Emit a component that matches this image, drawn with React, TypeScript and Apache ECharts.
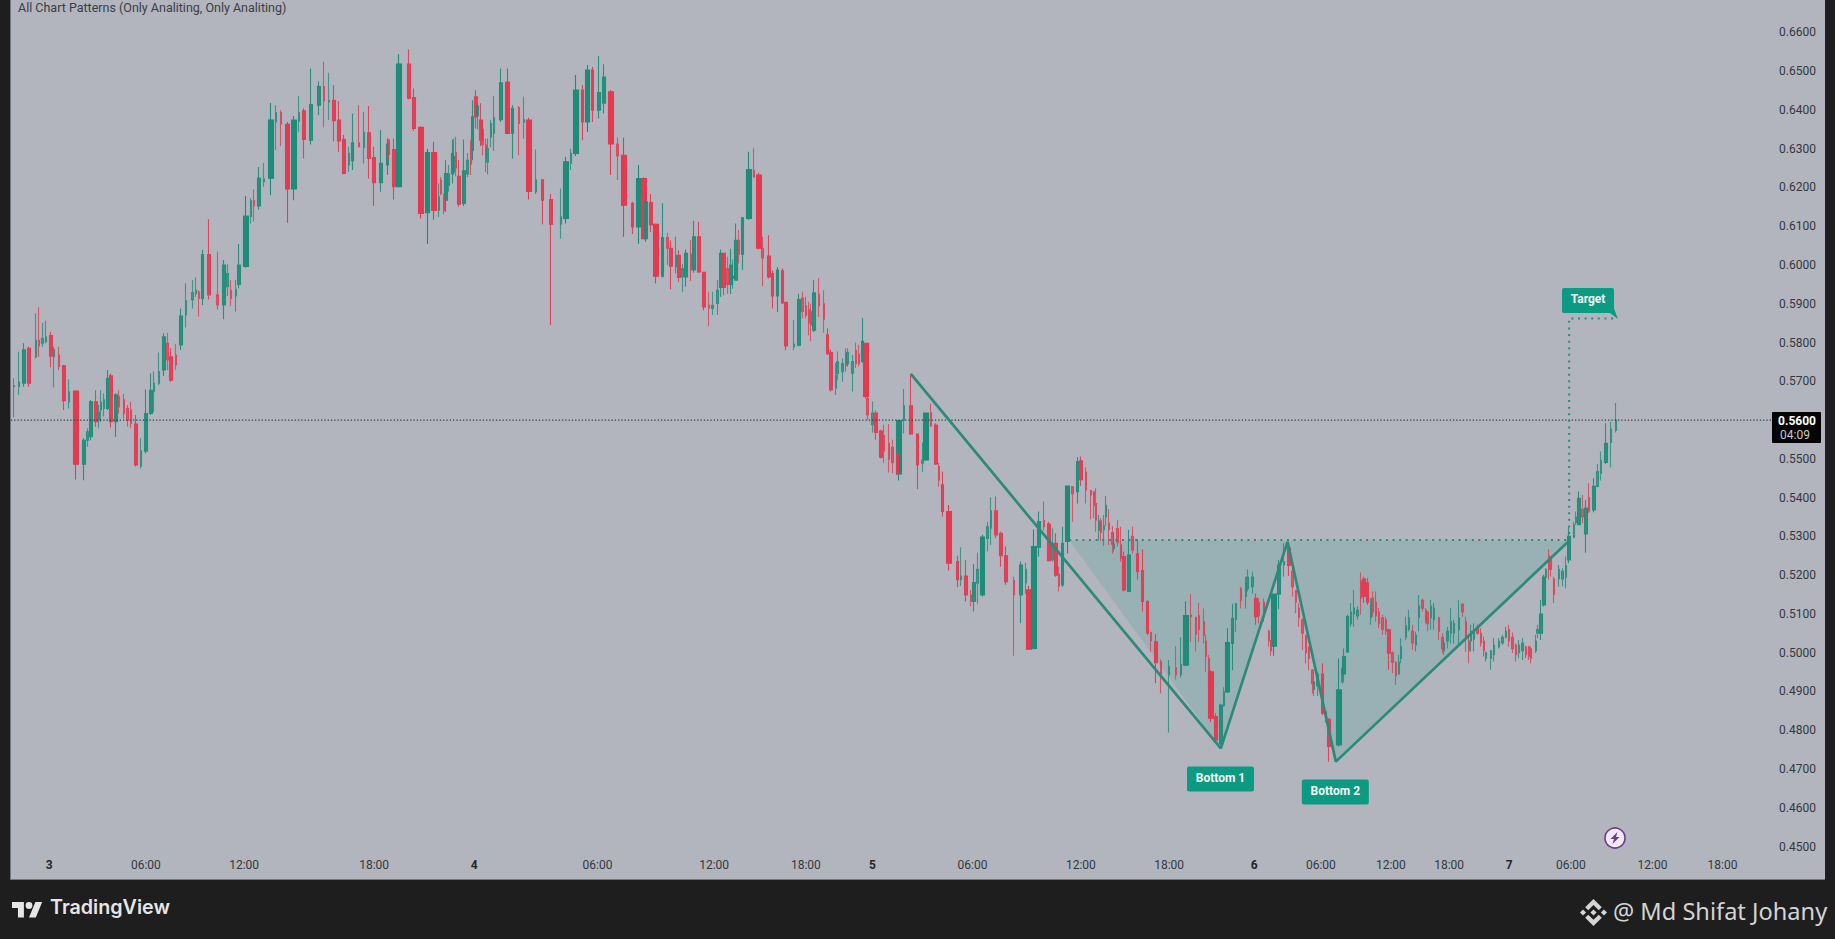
import React, { useEffect, useRef } from "react";
import * as echarts from "echarts";

// Each bar: [axis slot, open, close, low, high]
const barsSectionA = [
[2,.5686,.5689,.5607,.5708],[5,.5686,.5698,.5665,.5776],[8,.5695,.5781,.5686,.5798],[11,.5785,.5695,.5686,.5790],
[15,.5763,.5806,.5759,.5875],[17,.5806,.5791,.5763,.5891],[19,.5798,.5811,.5789,.5851],[21,.5802,.5815,.5798,.5856],
[24,.5818,.5765,.5736,.5828],[26,.5763,.5782,.5684,.5789],[29,.5768,.5738,.5729,.5789],[32,.5740,.5650,.5626,.5742],
[35,.5647,.5673,.5630,.5705],[39,.5675,.5486,.5447,.5677],[44,.5486,.5548,.5445,.5553],[46,.5548,.5570,.5531,.5579],
[48,.5557,.5647,.5548,.5652],[51,.5647,.5596,.5583,.5677],[53,.5600,.5621,.5579,.5639],[54,.5626,.5646,.5596,.5677],
[56,.5630,.5652,.5609,.5669],[58,.5630,.5708,.5626,.5729],[60,.5714,.5596,.5581,.5720],[63,.5596,.5665,.5557,.5669],
[65,.5660,.5634,.5617,.5677],[68,.5652,.5617,.5604,.5667],[70,.5630,.5600,.5583,.5639],[72,.5626,.5591,.5579,.5647],
[75,.5590,.5484,.5480,.5613],[78,.5481,.5521,.5475,.5553],[81,.5520,.5617,.5514,.5679],[84,.5617,.5677,.5613,.5720],
[86,.5673,.5695,.5621,.5725],[89,.5695,.5725,.5690,.5774],[92,.5729,.5815,.5714,.5824],[94,.5798,.5755,.5729,.5825],
[96,.5763,.5703,.5699,.5785],[99,.5768,.5742,.5729,.5796],[102,.5794,.5868,.5781,.5888],[105,.5871,.5908,.5839,.5953],
[109,.5910,.5929,.5888,.5961],[111,.5925,.5935,.5918,.5968],[113,.5931,.5914,.5867,.5935],[115,.5914,.6027,.5897,.6039],
[119,.6027,.5923,.5911,.6118],[124,.5923,.5897,.5885,.6034],[128,.5897,.6000,.5860,.6013],[130,.5944,.5978,.5920,.6002],
[132,.5935,.5914,.5894,.5961],[135,.5920,.5937,.5880,.5961],[137,.5950,.6000,.5940,.6054],[141,.5996,.6126,.5993,.6178],
[144,.6125,.6166,.6107,.6172],[146,.6166,.6152,.6112,.6195],[149,.6152,.6224,.6143,.6253],[152,.6215,.6222,.6202,.6263],
[156,.6224,.6374,.6180,.6418],
];
const barsSectionB = [
[159,.6369,.6393,.6296,.6412],[162,.6393,.6363,.6307,.6399],[166,.6363,.6196,.6109,.6369],[170,.6196,.6374,.6167,.6384],
[173,.6371,.6393,.6344,.6436],[176,.6398,.6324,.6275,.6404],[180,.6322,.6414,.6311,.6507],[185,.6412,.6460,.6387,.6473],
[188,.6460,.6423,.6355,.6524],[191,.6420,.6425,.6374,.6496],[194,.6425,.6372,.6319,.6464],[197,.6374,.6320,.6292,.6423],
[200,.6324,.6236,.6234,.6335],[203,.6258,.6288,.6240,.6305],[205,.6269,.6315,.6245,.6391],[209,.6315,.6305,.6303,.6412],
[212,.6303,.6342,.6262,.6395],[215,.6341,.6275,.6223,.6410],[218,.6277,.6212,.6152,.6305],[222,.6212,.6262,.6189,.6348],
[226,.6258,.6312,.6232,.6326],[227,.6322,.6285,.6270,.6326],[230,.6298,.6202,.6169,.6326],[233,.6202,.6518,.6200,.6544],
[239,.6518,.6430,.6427,.6556],[242,.6432,.6352,.6346,.6455],[246,.6355,.6133,.6120,.6358],[250,.6135,.6290,.6054,.6300],
[254,.6290,.6141,.6117,.6318],[257,.6141,.6176,.6124,.6210],[258,.6219,.6184,.6180,.6227],[260,.6176,.6141,.6131,.6184],
[261,.6167,.6236,.6137,.6270],[263,.6205,.6235,.6189,.6258],[265,.6236,.6288,.6210,.6324],[266,.6240,.6280,.6232,.6326],
[267,.6290,.6250,.6229,.6331],[269,.6229,.6157,.6150,.6270],[272,.6159,.6243,.6152,.6324],[274,.6235,.6270,.6227,.6289],
[276,.6300,.6260,.6232,.6322],[277,.6296,.6382,.6270,.6425],[279,.6434,.6382,.6352,.6451],[280,.6385,.6410,.6350,.6417],
[282,.6374,.6322,.6307,.6417],[283,.6350,.6310,.6283,.6374],[285,.6310,.6275,.6240,.6326],[286,.6265,.6300,.6234,.6326],
[288,.6330,.6365,.6303,.6374],[290,.6339,.6380,.6294,.6436],[294,.6375,.6470,.6369,.6507],[298,.6472,.6339,.6337,.6507],
[301,.6339,.6404,.6275,.6412],[305,.6406,.6365,.6283,.6410],[308,.6368,.6375,.6326,.6434],[311,.6374,.6190,.6169,.6380],
[315,.6189,.6220,.6183,.6298],[319,.6220,.6167,.6105,.6222],
];
const barsSectionC = [
[324,.6169,.6105,.5845,.6183],[330,.6105,.6124,.6068,.6197],[333,.6120,.6266,.6107,.6279],[336,.6262,.6288,.6245,.6300],
[339,.6288,.6451,.6281,.6490],[343,.6451,.6369,.6322,.6464],[346,.6369,.6503,.6343,.6516],[349,.6503,.6399,.6369,.6511],
[353,.6399,.6445,.6378,.6539],[356,.6417,.6485,.6391,.6518],[360,.6447,.6312,.6232,.6451],[364,.6312,.6281,.6219,.6329],
[368,.6283,.6154,.6073,.6329],[373,.6159,.6098,.6080,.6163],[377,.6098,.6223,.6055,.6258],[380,.6223,.6068,.6066,.6226],
[381,.6068,.6163,.6060,.6186],[384,.6161,.6103,.6085,.6183],[387,.6105,.5971,.5952,.6107],[391,.5971,.6071,.5968,.6159],
[394,.6071,.6043,.6000,.6083],[396,.6043,.5997,.5937,.6064],[399,.5995,.6025,.5978,.6073],[401,.6025,.5968,.5957,.6038],
[403,.5970,.5990,.5931,.6002],[405,.5969,.6030,.5944,.6040],[408,.6028,.5987,.5959,.6064],[410,.5987,.6073,.5980,.6114],
[413,.6073,.5982,.5980,.6111],[416,.5981,.5892,.5883,.5982],[419,.5896,.5889,.5842,.5931],[421,.5888,.5896,.5871,.5931],
[424,.5901,.5935,.5871,.5961],[426,.5942,.6030,.5918,.6040],[428,.6030,.5942,.5922,.6030],[430,.5990,.5950,.5926,.6021],
[432,.5950,.6000,.5925,.6042],[433,.5965,.5971,.5939,.6014],[435,.5961,.6064,.5961,.6107],[437,.6064,.6028,.6004,.6090],
[439,.6028,.6122,.5987,.6124],[443,.6120,.6246,.6117,.6292],[446,.6244,.6227,.6225,.6301],[449,.6232,.6043,.6040,.6238],
[451,.6043,.6019,.5945,.6073],[455,.6023,.5969,.5965,.6077],[457,.5978,.5920,.5888,.5985],[460,.5920,.5987,.5879,.5995],
[463,.5985,.5902,.5900,.5991],[465,.5904,.5791,.5780,.5905],[470,.5789,.5796,.5780,.5858],[473,.5793,.5911,.5790,.5926],
[475,.5915,.5880,.5862,.5931],[477,.5895,.5870,.5862,.5918],[479,.5885,.5850,.5819,.5905],
];
const barsSectionD = [
[480,.5880,.5845,.5803,.5900],[482,.5832,.5928,.5827,.5961],[485,.5925,.5895,.5866,.5966],[488,.5900,.5860,.5825,.5935],
[490,.5820,.5771,.5768,.5837],[492,.5774,.5678,.5674,.5781],[495,.5682,.5716,.5665,.5747],[496,.5720,.5750,.5704,.5777],
[499,.5725,.5745,.5699,.5759],[501,.5770,.5740,.5725,.5785],[502,.5745,.5775,.5738,.5785],[505,.5721,.5751,.5674,.5768],
[507,.5780,.5745,.5734,.5800],[509,.5770,.5745,.5738,.5794],[511,.5751,.5803,.5748,.5863],[513,.5798,.5661,.5656,.5800],
[514,.5656,.5613,.5600,.5674],[517,.5588,.5618,.5568,.5648],[519,.5618,.5568,.5549,.5625],[522,.5572,.5504,.5501,.5575],
[524,.5560,.5520,.5490,.5588],[527,.5540,.5499,.5465,.5590],[529,.5530,.5490,.5463,.5549],[532,.5513,.5461,.5459,.5532],
[533,.5461,.5599,.5444,.5600],[536,.5599,.5637,.5566,.5680],[540,.5637,.5564,.5562,.5719],[544,.5564,.5484,.5422,.5564],
[547,.5489,.5497,.5467,.5542],[549,.5497,.5618,.5495,.5619],[552,.5619,.5585,.5583,.5643],[555,.5587,.5487,.5484,.5592],
[557,.5480,.5445,.5428,.5489],[559,.5433,.5364,.5351,.5467],[563,.5364,.5231,.5212,.5381],[568,.5235,.5188,.5169,.5250],
[570,.5188,.5198,.5172,.5272],[573,.5198,.5149,.5132,.5239],[576,.5149,.5132,.5119,.5162],[578,.5132,.5181,.5106,.5229],
[580,.5179,.5215,.5126,.5258],[583,.5149,.5298,.5145,.5304],[586,.5295,.5325,.5261,.5338],[588,.5321,.5366,.5278,.5401],
[591,.5366,.5304,.5295,.5403],[594,.5308,.5250,.5222,.5312],[597,.5250,.5183,.5175,.5274],[602,.5186,.5149,.4992,.5196],
[606,.5149,.5226,.5076,.5235],[609,.5180,.5215,.5153,.5232],[611,.5162,.5009,.5007,.5172],[614,.5011,.5274,.5009,.5318],
[617,.5272,.5338,.5248,.5364],[620,.5341,.5325,.5315,.5390],[623,.5332,.5237,.5235,.5338],[625,.5239,.5282,.5235,.5321],
[627,.5282,.5200,.5196,.5308],[629,.5203,.5172,.5158,.5222],[631,.5175,.5282,.5170,.5325],[634,.5287,.5430,.5256,.5431],
[637,.5428,.5410,.5338,.5430],
];
const barsSectionE = [
[640,.5415,.5493,.5385,.5504],[642,.5495,.5446,.5430,.5506],[645,.5465,.5420,.5385,.5478],[648,.5418,.5407,.5344,.5420],
[650,.5415,.5380,.5347,.5415],[651,.5385,.5342,.5312,.5424],[653,.5315,.5340,.5289,.5355],[654,.5340,.5310,.5289,.5347],
[656,.5317,.5327,.5275,.5355],[657,.5350,.5380,.5327,.5404],[659,.5334,.5318,.5278,.5370],[661,.5310,.5280,.5256,.5327],
[662,.5269,.5280,.5261,.5308],[664,.5320,.5285,.5274,.5342],[666,.5278,.5243,.5235,.5325],[668,.5248,.5162,.5158,.5261],
[671,.5158,.5252,.5158,.5317],[673,.5300,.5265,.5256,.5325],[676,.5255,.5209,.5188,.5293],[679,.5212,.5132,.5106,.5267],
[682,.5132,.5050,.5046,.5136],[684,.5052,.5031,.5003,.5054],[687,.5028,.4974,.4921,.5048],[690,.4977,.4945,.4895,.4983],
[695,.4943,.4964,.4794,.4981],[699,.4962,.4943,.4931,.5017],[702,.4943,.4970,.4936,.5040],[705,.4968,.5096,.4966,.5132],
[708,.5097,.5093,.5028,.5151],[711,.5091,.5048,.5003,.5093],[713,.5095,.5060,.5028,.5129],[716,.5080,.5045,.5024,.5114],
[717,.5030,.4990,.4951,.5046],[719,.4985,.4945,.4911,.4994],[720,.4951,.4831,.4822,.4955],[723,.4835,.4775,.4770,.4844],
[726,.4766,.4865,.4762,.4868],[728,.4863,.4899,.4861,.4911],[730,.4899,.5026,.4897,.5063],[733,.5024,.5089,.4955,.5126],
[735,.5086,.5126,.5054,.5129],[738,.5165,.5135,.5114,.5170],[741,.5145,.5180,.5114,.5196],[742,.5165,.5195,.5158,.5215],
[745,.5170,.5195,.5153,.5209],[747,.5140,.5093,.5072,.5153],[749,.5130,.5095,.5076,.5140],[752,.5130,.5095,.5080,.5140],
[755,.5055,.5030,.5016,.5059],[756,.5030,.5005,.4992,.5033],[758,.5017,.5151,.4992,.5151],[761,.5151,.5226,.5112,.5239],
[764,.5226,.5235,.5196,.5282],[767,.5270,.5225,.5198,.5278],[769,.5210,.5170,.5145,.5218],[771,.5160,.5130,.5102,.5162],
[773,.5115,.5090,.5067,.5127],[775,.5085,.5050,.5007,.5089],[777,.5045,.5000,.4973,.5046],[779,.5015,.4985,.4955,.5016],
[781,.4955,.4920,.4895,.4958],[782,.4905,.4925,.4888,.4925],[784,.4915,.4945,.4888,.4951],[787,.4945,.4844,.4839,.4973],
[789,.4848,.4822,.4820,.4852],[791,.4828,.4758,.4719,.4831],[797,.4762,.4904,.4758,.4985],
];
const barsSectionF = [
[799,.4925,.4960,.4920,.4977],[800,.4945,.4990,.4943,.5011],[802,.5002,.5093,.5000,.5098],[804,.5075,.5105,.5067,.5128],
[806,.5100,.5115,.5067,.5162],[808,.5095,.5110,.5085,.5119],[810,.5185,.5140,.5098,.5207],[812,.5190,.5145,.5128,.5196],
[814,.5180,.5130,.5123,.5192],[816,.5090,.5125,.5072,.5140],[817,.5140,.5105,.5093,.5158],[819,.5130,.5095,.5080,.5158],
[821,.5105,.5075,.5063,.5115],[823,.5090,.5060,.5046,.5098],[825,.5085,.5055,.5046,.5093],[827,.5059,.4999,.4956,.5061],
[829,.5000,.4975,.4947,.5003],[831,.4975,.4940,.4917,.4977],[833,.4945,.4975,.4943,.4994],[834,.4985,.5015,.4973,.5037],
[837,.5040,.5070,.5033,.5093],[839,.5060,.5090,.5055,.5110],[841,.5055,.5025,.5007,.5072],[843,.5020,.5045,.5003,.5054],
[845,.5090,.5120,.5055,.5149],[847,.5135,.5115,.5106,.5140],[849,.5110,.5085,.5076,.5115],[850,.5105,.5075,.5055,.5106],
[852,.5090,.5120,.5059,.5136],[854,.5085,.5115,.5059,.5128],[857,.5090,.5055,.5033,.5093],[859,.5040,.5010,.4999,.5050],
[860,.5005,.5025,.4994,.5033],[862,.5030,.5055,.5011,.5067],[864,.5050,.5080,.5024,.5115],[866,.5050,.5075,.5024,.5085],
[869,.5060,.5090,.5020,.5136],[871,.5125,.5105,.5093,.5128],[873,.5080,.5037,.5002,.5093],[875,.5030,.5005,.4973,.5042],
[876,.5030,.5055,.5003,.5072],[878,.5035,.5060,.5003,.5076],[880,.5065,.5050,.5046,.5072],[882,.5050,.5025,.5016,.5063],
[884,.5030,.5005,.4990,.5042],[885,.4985,.5000,.4977,.5003],[888,.4985,.5005,.4956,.5007],[890,.4995,.5020,.4977,.5037],
[893,.5015,.5030,.5011,.5037],[895,.5025,.5040,.5020,.5046],[897,.5040,.5055,.5037,.5067],[899,.5060,.5030,.5016,.5072],
[901,.5040,.5010,.4999,.5052],[903,.5020,.4995,.4977,.5024],[905,.5000,.5020,.4986,.5033],[907,.5005,.5025,.4981,.5037],
[909,.5015,.4995,.4986,.5018],[911,.5015,.4990,.4981,.5018],[912,.5010,.4985,.4973,.5016],[915,.5005,.5030,.4999,.5046],
[916,.5050,.5060,.5037,.5072],[918,.5050,.5100,.5033,.5136],[920,.5123,.5195,.5119,.5201],[921,.5195,.5215,.5188,.5218],
[923,.5250,.5215,.5188,.5267],[924,.5245,.5215,.5196,.5248],[926,.5190,.5150,.5128,.5196],[929,.5190,.5215,.5171,.5226],
[931,.5190,.5210,.5171,.5218],[933,.5195,.5225,.5166,.5248],[935,.5239,.5300,.5231,.5324],[938,.5298,.5330,.5295,.5338],
[939,.5335,.5350,.5330,.5364],[941,.5330,.5398,.5330,.5416],[943,.5370,.5350,.5334,.5407],[945,.5306,.5373,.5258,.5394],
[947,.5400,.5365,.5360,.5437],[950,.5368,.5429,.5362,.5450],[952,.5429,.5467,.5427,.5487],[954,.5463,.5496,.5444,.5519],
[957,.5491,.5540,.5487,.5592],[960,.5542,.5577,.5478,.5596],[963,.5573,.5600,.5568,.5644],
];

// x-axis tick labels and the slot each one belongs to
const timeLabels = ["3","06:00","12:00","18:00","4","06:00","12:00","18:00","5","06:00","12:00","18:00","6","06:00","12:00","18:00","7","06:00","12:00","18:00"];
const timeSlots = [23,81,140,218,278,352,422,477,517,577,642,695,746,786,828,863,899,936,985,1027];
const priceTicks = [.45,.46,.47,.48,.49,.50,.51,.52,.53,.54,.55,.57,.58,.59,.60,.61,.62,.63,.64,.65,.66];

// Double-bottom drawing: [slot, price]
const patternLine = [[540,.5719],[726,.4753],[766,.5286],[795,.4719],[935,.5289]];
const patternFill = [[635,.5290],[726,.4753],[766,.5286],[795,.4719],[935,.5289]];
const necklineDots = [[635,.5291],[935,.5291]];
const targetDots = [[935,.5289],[935,.5862],[964,.5862]];
const lastPriceDots = [[0,.56],[1057,.56]];

const SLOT_COUNT = 1089;
const PRICE_MIN = 0.44163;
const PRICE_MAX = 0.66835;
const UP = "#1e8c78";
const DOWN = "#e23a50";
const DRAW = "#2b8a7a";
const LABEL_BG = "#0d9a82";
const TEXT = "#34373d";

const tvLogo = "M14 6H0v7h7v11h7V6Z M28 24h-8l7.5-18h8L28 24Z M24 10a4 4 0 1 1-8 0a4 4 0 1 1 8 0Z";
const binanceLogo = "M38.73 53.2l24.59-24.58 24.6 24.6 14.3-14.31L63.32 0 24.43 38.9zM0 63.31l14.3-14.31 14.31 14.31-14.31 14.3zM38.73 73.41l24.59 24.59 24.6-24.6 14.31 14.29-38.9 38.91-38.91-38.88zM98 63.31l14.3-14.31 14.31 14.3-14.31 14.3zM77.83 63.3L63.32 48.78 52.59 59.51l-1.24 1.23-2.54 2.54 14.51 14.5 14.51-14.47z";
echarts.graphic.registerShape("tvLogo", echarts.graphic.extendPath(tvLogo, {}));
echarts.graphic.registerShape("binanceLogo", echarts.graphic.extendPath(binanceLogo, {}));

const allBars = [...barsSectionA, ...barsSectionB, ...barsSectionC, ...barsSectionD, ...barsSectionE, ...barsSectionF];

function candleSeries(name: string, bars: number[][], barWidth: number, opacity: number) {
  return {
    name,
    type: "candlestick",
    data: bars,
    encode: { x: 0, y: [1, 2, 3, 4] },
    barWidth,
    z: 3,
    silent: true,
    itemStyle: { color: UP, color0: DOWN, borderColor: UP, borderColor0: DOWN, borderWidth: 1.1, opacity },
  };
}

function labelBox(cx: number, cy: number, w: number, h: number, text: string) {
  return [
    { type: "rect", shape: { x: cx - w / 2, y: cy - h / 2, width: w, height: h, r: 2 }, style: { fill: LABEL_BG } },
    { type: "text", x: cx, y: cy - 1.5, style: { text, fill: "#f2f7f5", font: "bold 12px Roboto", textAlign: "center", textVerticalAlign: "middle" } },
  ];
}

export default function App() {
  const ref = useRef<HTMLDivElement>(null);
  useEffect(() => {
    const chart = echarts.init(ref.current!, undefined, { renderer: "svg" });
    const categories = Array.from({ length: SLOT_COUNT }, () => "");
    timeSlots.forEach((s, i) => { categories[s] = timeLabels[i]; });
    chart.setOption({
      animation: false,
      backgroundColor: "#1e1e1e",
      grid: { left: 10, right: 10, top: 0, bottom: 60, show: true, backgroundColor: "#b2b5be", borderWidth: 0 },
      xAxis: {
        type: "category",
        data: categories,
        boundaryGap: true,
        axisLine: { show: false },
        axisTick: { show: false },
        splitLine: { show: false },
        axisLabel: {
          inside: true,
          margin: 8,
          color: TEXT,
          fontFamily: "Roboto",
          fontSize: 12,
          interval: (_: number, v: string) => v !== "",
          formatter: (v: string) => (v.length === 1 ? `{day|${v}}` : v),
          rich: { day: { fontFamily: "Roboto", fontSize: 12, fontWeight: "bold", color: "#24272c" } },
        },
      },
      yAxis: {
        type: "value",
        position: "right",
        min: PRICE_MIN,
        max: PRICE_MAX,
        axisLine: { show: false },
        axisTick: { show: false },
        splitLine: { show: false },
        axisLabel: {
          inside: true,
          margin: 9,
          color: TEXT,
          fontFamily: "Roboto",
          fontSize: 12,
          customValues: priceTicks,
          formatter: (v: number) => v.toFixed(4),
        },
      },
      series: [
        {
          type: "custom",
          silent: true,
          z: 2,
          data: patternFill,
          encode: { x: 0, y: 1 },
          renderItem: (params: any, api: any) => {
            if (params.dataIndex !== 0) return null;
            return {
              type: "polygon",
              shape: { points: patternFill.map((p) => api.coord(p)) },
              style: { fill: "rgba(8,153,129,0.14)" },
            };
          },
        },
        candleSeries("wide", allBars.filter((b) => Math.abs(b[1] - b[2]) >= 0.012), 5, 1),
        candleSeries("medium", allBars.filter((b) => { const d = Math.abs(b[1] - b[2]); return d >= 0.0045 && d < 0.012; }), 3.4, 0.92),
        candleSeries("narrow", allBars.filter((b) => Math.abs(b[1] - b[2]) < 0.0045), 1.8, 0.78),
        { type: "line", silent: true, z: 4, data: lastPriceDots, symbol: "none", lineStyle: { color: "#3a3c42", width: 1.2, type: [1.3, 2] } },
        { type: "line", silent: true, z: 5, data: patternLine, symbol: "none", lineStyle: { color: DRAW, width: 2.7 } },
        { type: "line", silent: true, z: 5, data: necklineDots, symbol: "none", lineStyle: { color: DRAW, width: 2, type: [2, 4.6] } },
        { type: "line", silent: true, z: 5, data: targetDots, symbol: "none", lineStyle: { color: DRAW, width: 2, type: [2, 4.6] } },
      ],
      graphic: [
        { type: "line", shape: { x1: 10.5, y1: 0, x2: 10.5, y2: 879 }, style: { stroke: "#74767c", lineWidth: 1 } },
        { type: "line", shape: { x1: 10, y1: 879.5, x2: 1825, y2: 879.5 }, style: { stroke: "#74767c", lineWidth: 1 } },
        { type: "text", x: 18, y: 1, style: { text: "All Chart Patterns (Only Analiting, Only Analiting)", fill: "#3a3d44", font: "12.5px Roboto" } },
        ...labelBox(1220.5, 779, 67, 25, "Bottom 1"),
        ...labelBox(1335.3, 792, 67, 25, "Bottom 2"),
        ...labelBox(1588, 300.5, 52, 25, "Target"),
        { type: "polygon", shape: { points: [[1613, 306], [1618, 319], [1610, 313]] }, style: { fill: LABEL_BG } },
        { type: "rect", shape: { x: 1772, y: 412, width: 49, height: 31, r: 1 }, style: { fill: "#050505" } },
        { type: "text", x: 1797, y: 421, style: { text: "0.5600", fill: "#ffffff", font: "bold 12px Roboto", textAlign: "center", textVerticalAlign: "middle" } },
        { type: "text", x: 1795, y: 435, style: { text: "04:09", fill: "#c8c8c8", font: "12px Roboto", textAlign: "center", textVerticalAlign: "middle" } },
        { type: "circle", shape: { cx: 1615, cy: 838, r: 10 }, style: { fill: "#f2e9f5", stroke: "#6d3c8e", lineWidth: 1.6 } },
        { type: "polygon", shape: { points: [[1617.5, 832], [1610.5, 839], [1614, 839], [1612.5, 844], [1619.5, 837], [1616, 837]] }, style: { fill: "#6d3c8e" } },
        { type: "tvLogo", x: 12, y: 897, scaleX: 0.85, scaleY: 0.85, style: { fill: "#e6e6e6" } },
        { type: "text", x: 50, y: 907, style: { text: "TradingView", fill: "#e6e6e6", font: "600 19.7px Inter", textVerticalAlign: "middle" } },
        { type: "binanceLogo", x: 1580, y: 899, scaleX: 0.213, scaleY: 0.213, style: { fill: "#d4d4d4" } },
        { type: "text", x: 1613, y: 911, style: { text: "@ Md Shifat Johany", fill: "#d4d4d4", font: "23.6px 'Noto Sans'", textVerticalAlign: "middle" } },
      ],
    });
    return () => chart.dispose();
  }, []);
  return <div ref={ref} style={{ position: "absolute", left: 0, top: 0, width: 1835, height: 939 }} />;
}
